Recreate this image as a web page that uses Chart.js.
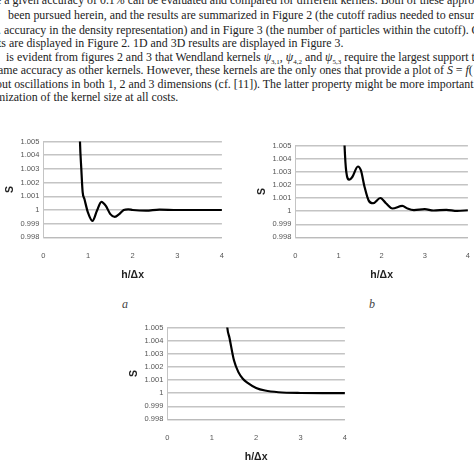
<!doctype html>
<html>
<head>
<meta charset="utf-8">
<script src="https://cdn.jsdelivr.net/npm/chart.js@4"></script>
<style>
  body { margin: 0; width: 474px; height: 474px; overflow: hidden; background: #fff; position: relative; font-family: "Liberation Serif", serif; }
  .ln { position: absolute; white-space: nowrap; font-size: 11.9px; color: #222; }
  .box { position: absolute; }
  .cap { position: absolute; font-style: italic; font-size: 12px; color: #444; }
</style>
</head>
<body>
<div class="ln" style="left:-8px;top:-7px">re a given accuracy of 0.1% can be evaluated and compared for different kernels. Both of these appro</div>
<div class="ln" style="left:8px;top:8px">been pursued herein, and the results are summarized in Figure 2 (the cutoff radius needed to ensur</div>
<div class="ln" style="left:-2px;top:23px">. accuracy in the density representation) and in Figure 3 (the number of particles within the cutoff). Onl</div>
<div class="ln" style="left:-2px;top:36px">ts are displayed in Figure 2. 1D and 3D results are displayed in Figure 3.</div>
<div class="ln" style="left:6px;top:50px">is evident from figures 2 and 3 that Wendland kernels <i>ψ</i><sub style="font-size:7px">3,1</sub>, <i>ψ</i><sub style="font-size:7px">4,2</sub> and <i>ψ</i><sub style="font-size:7px">5,3</sub> require the largest support to er</div>
<div class="ln" style="left:-2px;top:63px">ame accuracy as other kernels. However, these kernels are the only ones that provide a plot of <i>S</i> = <i>f</i>(</div>
<div class="ln" style="left:-4px;top:77px">out oscillations in both 1, 2 and 3 dimensions (cf. [11]). The latter property might be more important tha</div>
<div class="ln" style="left:-4px;top:90px">mization of the kernel size at all costs.</div>

<div class="box" style="left:4px;top:133px;width:226px;height:152px"><canvas id="ca"></canvas></div>
<div class="box" style="left:256px;top:137px;width:220px;height:148px"><canvas id="cb"></canvas></div>
<div class="box" style="left:128px;top:319px;width:225px;height:148px"><canvas id="cc"></canvas></div>
<div class="cap" style="left:122px;top:297px">a</div>
<div class="cap" style="left:369px;top:297px">b</div>

<script>
// S vs h/dx
const xA = [0.80, 0.82, 0.85, 0.88, 0.92, 1.0, 1.1, 1.2, 1.3, 1.4, 1.5, 1.6, 1.7, 1.8, 1.9, 2.0, 2.3, 2.6, 3.0, 3.5, 4.0];
const sA = [1.008, 1.005, 1.003, 1.0013, 1.0008, 0.9998, 0.9992, 0.99995, 1.0006, 1.0003, 0.9997, 0.9995, 0.9997, 1.0, 1.00005, 1.0, 0.99995, 1.00003, 1.0, 1.0, 1.0];

const xB = [1.12, 1.14, 1.18, 1.25, 1.32, 1.45, 1.52, 1.6, 1.7, 1.8, 1.97, 2.1, 2.25, 2.48, 2.6, 2.75, 3.0, 3.2, 3.5, 3.75, 4.0];
const sB = [1.007, 1.005, 1.003, 1.0024, 1.0026, 1.0034, 1.0031, 1.0019, 1.0008, 1.0006, 1.001, 1.0006, 1.0002, 1.0004, 1.0002, 1.00008, 1.00015, 1.00005, 1.0001, 1.00002, 1.00007];

const xC = [1.33, 1.35, 1.4, 1.5, 1.6, 1.7, 1.8, 2.0, 2.2, 2.5, 3.0, 3.5, 4.0];
const sC = [1.006, 1.005, 1.0042, 1.0025, 1.0016, 1.0011, 1.0008, 1.0004, 1.0002, 1.00007, 1.00001, 1.0, 1.0];

const yTicks = [0.998, 0.999, 1, 1.001, 1.002, 1.003, 1.004, 1.005];
const xTicks = [0, 1, 2, 3, 4];

function draw(id, xs, ys) {
  new Chart(document.getElementById(id), {
    type: "line",
    data: { datasets: [{ data: xs.map((x, i) => ({ x, y: ys[i] })), borderColor: "#000", borderWidth: 2.2, pointRadius: 0, cubicInterpolationMode: "monotone" }] },
    options: {
      animation: false, responsive: true, maintainAspectRatio: false,
      plugins: { legend: { display: false }, tooltip: { enabled: false } },
      layout: { padding: { top: 6, right: 4 } },
      scales: {
        x: {
          type: "linear", min: 0, max: 4,
          afterBuildTicks: ax => { ax.ticks = xTicks.map(v => ({ value: v })); },
          grid: { display: false }, border: { color: "#bbb" },
          ticks: { color: "#555", maxRotation: 0, padding: 6, font: { size: 7.5, family: "Liberation Sans" } },
          title: { display: true, text: "h/Δx", color: "#222", font: { size: 10.5, weight: "bold", family: "Liberation Sans" }, padding: { top: 2 } }
        },
        y: {
          min: 0.998, max: 1.005,
          afterBuildTicks: ax => { ax.ticks = yTicks.map(v => ({ value: v })); },
          grid: { color: "#c4c4c4", lineWidth: 1.4, drawTicks: false }, border: { display: true, color: "#c4c4c4" },
          ticks: { color: "#555", padding: 4, font: { size: 7.5, family: "Liberation Sans" }, callback: v => String(+v.toFixed(3)) },
          title: { display: true, text: "S", color: "#222", padding: 0, font: { size: 10.5, weight: "bold", family: "Liberation Sans" } }
        }
      }
    }
  });
}
draw("ca", xA, sA);
draw("cb", xB, sB);
draw("cc", xC, sC);
</script>
</body>
</html>
